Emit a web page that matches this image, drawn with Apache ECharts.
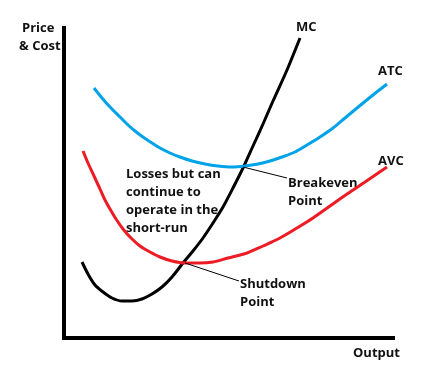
<!DOCTYPE html>
<html>
<head>
<meta charset="utf-8">
<script src="https://cdn.jsdelivr.net/npm/echarts@6/dist/echarts.min.js"></script>
<style>
html,body{margin:0;padding:0;background:#fff;}
#chart{width:424px;height:371px;}
</style>
</head>
<body>
<div id="chart"></div>
<script>
// Conceptual cost curves: [output, price/cost]
const mcData = [[18,76],[24,64],[31,53],[39,46],[48,40],[58,37],[68,37],[78,39],[88,44],[98,51],[108,61],[119,75],[129,87],[139,100],[149,115],[159,131],[169,150],[179,170],[189,192],[199,214],[209,237],[223,268],[236,300]];
const atcData = [[30,250],[38,240],[46,231],[55,222],[63,214],[71,207],[79,201],[88,195],[96,190],[106,185],[116,181],[128,177],[141,174],[154,172],[168,171],[181,172],[194,174],[206,177],[218,181],[231,186],[243,193],[256,201],[269,210],[281,220],[293,230],[304,239],[314,247],[323,254]];
const avcData = [[19,187],[24,175],[30,162],[36,149],[41,138],[46,129],[52,119],[59,109],[67,100],[76,92],[86,86],[96,81],[108,77],[121,75],[135,75],[149,76],[164,80],[183,85],[199,92],[216,100],[233,110],[249,120],[266,132],[283,144],[301,156],[323,171]];
// Leader lines: [from point, to label]
const breakevenLeader = [[179,171],[223,160]];
const shutdownLeader = [[121,75],[175,57]];
const seriesNames = ['MC','ATC','AVC'];
const noteLines = ['Losses but can','continue to','operate in the','short-run'];

const chart = echarts.init(document.getElementById('chart'));
const font = {fontFamily:'Open Sans', fontWeight:'bold', fontSize:13, fill:'#111'};
function txt(t, x, y, align){
  return {type:'text', x:x, y:y, style:Object.assign({text:t, textAlign:align||'left', textVerticalAlign:'middle'}, font)};
}
const graphics = [
  txt('Price', 22, 28), txt('& Cost', 19, 46),
  txt(seriesNames[0], 296, 27), txt(seriesNames[1], 378, 71), txt(seriesNames[2], 378, 161),
  txt('Breakeven', 288, 183), txt('Point', 288, 201),
  txt('Shutdown', 240, 284), txt('Point', 240, 302),
  txt('Output', 353, 353)
];
noteLines.forEach((l,i)=>graphics.push(txt(l, 126, 174 + i*18)));

const axisCommon = {
  type:'value', min:0,
  axisLine:{show:true, lineStyle:{color:'#000', width:4, cap:'square'}},
  axisTick:{show:false}, axisLabel:{show:false}, splitLine:{show:false}
};
const lineCommon = {type:'line', smooth:0.3, symbol:'none'};
chart.setOption({
  animation:false,
  backgroundColor:'#fff',
  grid:{left:64, right:31, top:28, bottom:33},
  xAxis:Object.assign({}, axisCommon, {max:329}),
  yAxis:Object.assign({}, axisCommon, {max:310}),
  series:[
    Object.assign({}, lineCommon, {name:'MC', data:mcData, lineStyle:{color:'#000', width:3},
     markLine:{silent:true, symbol:'none', label:{show:false}, lineStyle:{color:'#000', width:1, type:'solid'},
       data:[[{coord:breakevenLeader[0]},{coord:breakevenLeader[1]}],[{coord:shutdownLeader[0]},{coord:shutdownLeader[1]}]]}}),
    Object.assign({}, lineCommon, {name:'ATC', data:atcData, lineStyle:{color:'#00a2e8', width:3}}),
    Object.assign({}, lineCommon, {name:'AVC', data:avcData, lineStyle:{color:'#ed1c24', width:3}})
  ],
  graphic:graphics
});
</script>
</body>
</html>
